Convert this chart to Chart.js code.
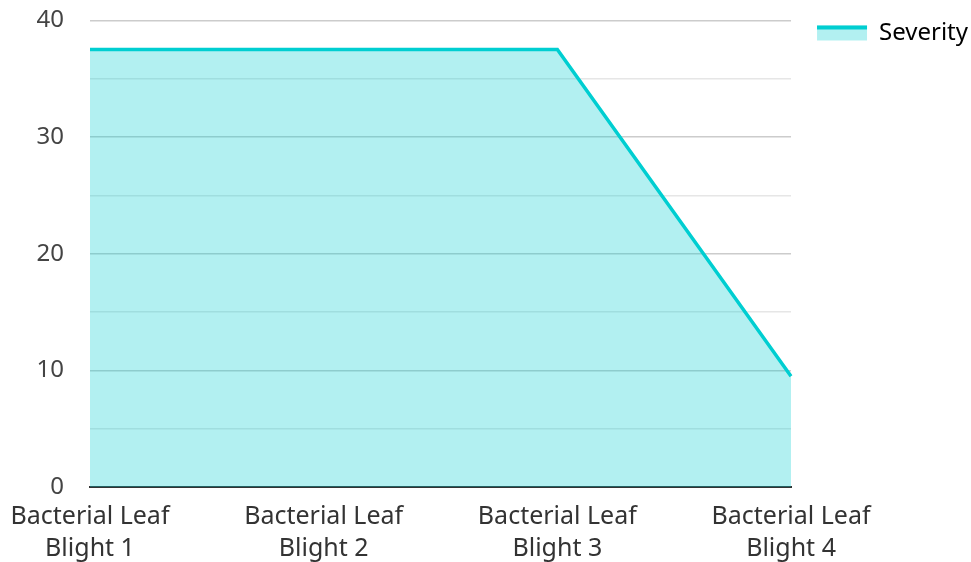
<!DOCTYPE html>
<html>
<head>
<meta charset="utf-8">
<script src="https://cdn.jsdelivr.net/npm/chart.js@4/dist/chart.umd.min.js"></script>
<style>
    html, body { margin: 0; padding: 0; background: #fff; }
    #wrap { width: 971px; height: 562px; }
</style>
</head>
<body>
<div id="wrap"><canvas id="chart" width="971" height="562"></canvas></div>
<script>
let categories = [['Bacterial Leaf', 'Blight 1'], ['Bacterial Leaf', 'Blight 2'], ['Bacterial Leaf', 'Blight 3'], ['Bacterial Leaf', 'Blight 4']];
let severity = [37.5, 37.5, 37.5, 9.5];
let yTicks = [0, 10, 20, 30, 40];

let lineColor = '#00CED1';
let fillColor = 'rgba(0, 206, 209, 0.3)';

// legend swatch: light box with a thick line along its top edge
let legendLine = {
    id: 'legendLine',
    afterDraw: function (chart) {
        let legend = chart.legend;
        if (!legend || !legend.legendHitBoxes) return;
        let ctx = chart.ctx;
        for (let box of legend.legendHitBoxes) {
            let top = box.top + (box.height - 15) / 2;
            ctx.save();
            ctx.fillStyle = lineColor;
            ctx.fillRect(box.left, top, 50, 4);
            ctx.restore();
        }
    }
};

let chart = new Chart(document.getElementById('chart').getContext('2d'), {
    type: 'line',
    data: {
        labels: categories,
        datasets: [{
            label: 'Severity',
            data: severity,
            borderColor: lineColor,
            backgroundColor: fillColor,
            borderWidth: 3.5,
            fill: 'origin',
            tension: 0,
            pointRadius: 0,
            pointHoverRadius: 0
        }]
    },
    plugins: [legendLine],
    options: {
        responsive: false,
        animation: false,
        layout: {
            padding: { top: -5, right: -7, bottom: -9, left: 6 }
        },
        plugins: {
            tooltip: { enabled: false },
            legend: {
                position: 'right',
                align: 'start',
                labels: {
                    font: { family: 'Noto Sans', size: 24 },
                    color: '#333',
                    boxWidth: 50,
                    boxHeight: 15,
                    padding: 26,
                    generateLabels: function (chart) {
                        return [{
                            text: 'Severity',
                            fillStyle: fillColor,
                            strokeStyle: 'rgba(0,0,0,0)',
                            lineWidth: 0,
                            hidden: false,
                            datasetIndex: 0
                        }];
                    }
                }
            }
        },
        scales: {
            x: {
                offset: false,
                grid: { display: false },
                border: { display: true, color: '#333', width: 2 },
                ticks: {
                    font: { family: 'Noto Sans', size: 25, lineHeight: 1.28 },
                    color: '#333',
                    maxRotation: 0,
                    autoSkip: false,
                    padding: 6
                }
            },
            y: {
                min: 0,
                max: 40,
                border: { display: false },
                afterFit: function (scale) {
                    scale.width = 84;
                },
                grid: {
                    drawTicks: true,
                    tickLength: 20,
                    tickColor: 'rgba(0,0,0,0)',
                    color: function (ctx) {
                        if (ctx.tick && ctx.tick.value % 10 !== 0) return '#e6e6e6';
                        return '#cccccc';
                    },
                    lineWidth: 1.5
                },
                ticks: {
                    stepSize: 5,
                    font: { family: 'Noto Sans', size: 24 },
                    color: '#444',
                    padding: 6,
                    callback: function (value) {
                        return yTicks.includes(value) ? value : '';
                    }
                }
            }
        }
    }
});
</script>
</body>
</html>
